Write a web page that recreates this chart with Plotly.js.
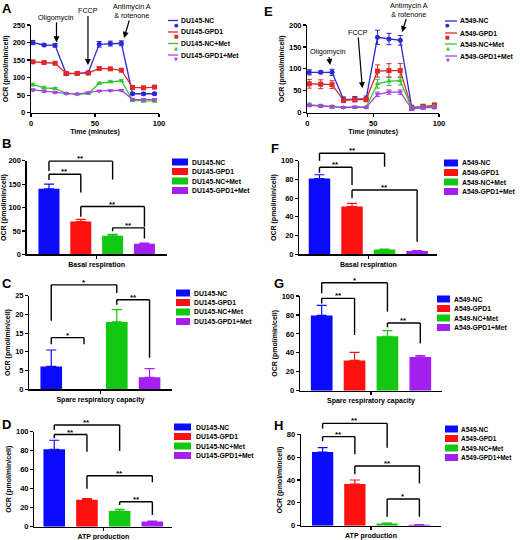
<!DOCTYPE html>
<html><head><meta charset="utf-8">
<script src="https://cdn.plot.ly/plotly-3.0.1.min.js"></script>
<style>html,body{margin:0;padding:0;background:#fff}#chart{width:520px;height:540px}</style>
</head><body><div id="chart"></div>
<script>
// ---------------- DATA ----------------
const timeMin = [1.5, 10.2, 18.8, 27.5, 36.1, 44.7, 53.3, 62, 70.6, 79.3, 87.9, 96.5];
const du145Groups = ['DU145-NC', 'DU145-GPD1', 'DU145-NC+Met', 'DU145-GPD1+Met'];
const a549Groups = ['A549-NC', 'A549-GPD1', 'A549-NC+Met', 'A549-GPD1+Met'];

// Panel A: DU145 OCR time course
const du145NC      = [200, 193, 192, 111, 112, 114, 195, 197, 198, 54, 54, 54];
const du145GPD1    = [145, 143, 141, 112, 112, 113, 126, 125, 121, 72, 71, 73];
const du145NCMet   = [80, 71, 69, 55, 53, 54, 84, 88, 91, 35, 33, 33];
const du145GPD1Met = [65, 61, 58, 55, 53, 57, 62, 63, 64, 38, 37, 37];
const du145NCErr      = [6, 3, 5, 5, 5, 4, 8, 7, 7, 3, 3, 3];
const du145GPD1Err    = [3, 2, 2, 3, 3, 3, 4, 4, 4, 3, 3, 3];
const du145NCMetErr   = [4, 4, 3, 2, 2, 2, 3, 3, 3, 3, 3, 3];
const du145GPD1MetErr = [3, 3, 3, 2, 2, 2, 2, 2, 2, 3, 3, 3];

// Panel E: A549 OCR time course
const a549NC      = [92, 92, 92, 30, 31, 32, 172, 168, 165, 12, 14, 15];
const a549GPD1    = [66, 65, 64, 28, 30, 30, 95, 96, 96, 10, 14, 17];
const a549NCMet   = [18, 16, 14, 12, 12, 13, 66, 72, 73, 10, 12, 14];
const a549GPD1Met = [17, 15, 13, 12, 13, 12, 42, 47, 47, 9, 11, 12];
const a549NCErr      = [6, 3, 7, 6, 6, 6, 16, 13, 11, 5, 5, 5];
const a549GPD1Err    = [10, 10, 9, 5, 5, 5, 14, 16, 16, 4, 5, 5];
const a549NCMetErr   = [4, 3, 3, 2, 2, 2, 10, 10, 10, 3, 3, 3];
const a549GPD1MetErr = [3, 3, 3, 2, 2, 2, 5, 5, 5, 3, 3, 3];

// Bar panels (mean, SD)
const du145Basal = [140, 70, 39.5, 22.5];   const du145BasalErr = [10, 4.5, 3, 1.5];
const du145Spare = [6.1, 0, 18, 3.2];       const du145SpareErr = [4.4, 0, 3.3, 2.3];
const du145ATP   = [81.5, 28.5, 16.5, 5.5]; const du145ATPErr   = [9.5, 1, 1.8, 0.5];
const a549Basal  = [81, 51, 5, 3.5];        const a549BasalErr  = [4, 3.5, 0.5, 0.5];
const a549Spare  = [79.5, 32, 57.5, 35.5];  const a549SpareErr  = [10.5, 8.5, 6, 1.5];
const a549ATP    = [64.5, 36.5, 2, 0.8];    const a549ATPErr    = [3.8, 3.5, 0.3, 0.2];

// Significance brackets: [group i, group j, bracket top, left leg end, right leg end, label]
const du145BasalSig = [[0,1,171,159,132,'**'],[0,2,199,178,160,'**'],[1,3,102,80,59,'**'],[2,3,56.5,49.5,34,'**']];
const du145SpareSig = [[0,1,13.8,12,12,'*'],[0,2,27.9,18.3,25.7,'*'],[2,3,23.9,22.6,8.4,'**']];
const du145ATPSig   = [[0,1,97,93,79,'**'],[0,2,107,101.8,79.6,'**'],[1,3,53.7,40,46.7,'**'],[2,3,26.3,22.8,12.3,'**']];
const a549BasalSig  = [[0,1,93,87,74,'**'],[0,2,108,100,93.6,'**'],[1,3,68.7,60,13.5,'**']];
const a549SpareSig  = [[0,1,97.5,92,58.8,'**'],[0,2,114,102.8,83.5,'*'],[2,3,71.5,67,50,'**']];
const a549ATPSig    = [[0,1,78,74,62.5,'**'],[0,2,89.6,85,68.3,'**'],[1,3,52.3,45,37,'**'],[2,3,23.4,7.9,7.9,'*']];

// ---------------- STYLE ----------------
const W = 520, H = 540;
const FONT = 'Liberation Sans, Arial, sans-serif';
const lineColors = ['#2a2ad0', '#e02828', '#35c435', '#a546e0'];
const barColors = ['#0a0aff', '#ff1010', '#12c812', '#a320f0'];
const symbols = ['circle', 'square', 'triangle-up', 'triangle-down'];
const symChars = ['\u25CF', '\u25A0', '\u25B2', '\u25BC'];

const traces = [];
const layout = {
  width: W, height: H, margin: {l: 0, r: 0, t: 0, b: 0},
  showlegend: false, paper_bgcolor: '#fff', plot_bgcolor: '#fff',
  barmode: 'overlay', font: {family: FONT, color: '#000'},
  shapes: [], annotations: []
};
const px2x = p => p / W, px2y = p => 1 - p / H;

function axisBase() {
  return {showline: true, linecolor: '#000', linewidth: 1.3, ticks: 'outside', ticklen: 3,
    tickwidth: 1.2, tickcolor: '#000', showgrid: false, zeroline: false, fixedrange: true,
    tickfont: {family: FONT, size: 7.5, color: '#000', weight: 'bold'}};
}
function suf(n) { return n === 1 ? '' : String(n); }
function addAxes(n, g, xcfg, ycfg) {
  const s = suf(n);
  layout['xaxis' + s] = Object.assign(axisBase(), {domain: [g.x[0] / W, g.x[1] / W], anchor: 'y' + s}, xcfg);
  layout['yaxis' + s] = Object.assign(axisBase(), {domain: [1 - g.y[1] / H, 1 - g.y[0] / H], anchor: 'x' + s,
    title: {text: '<b>OCR (pmol/min/cell)</b>', font: {size: 7, family: FONT}, standoff: 3}}, ycfg);
}
function legendText(x, y, name, fs) {
  layout.annotations.push({xref: 'paper', yref: 'paper', x: px2x(x), y: px2y(y), xanchor: 'left',
    yanchor: 'middle', borderpad: 0, text: '<b>' + name + '</b>', showarrow: false,
    font: {size: fs, family: FONT}});
}

function linePanel(n, g, groups, series, errs, yMax, notes, lg) {
  const s = suf(n);
  addAxes(n, g, {range: [0, 100], tickvals: [0, 50, 100],
      title: {text: '<b>Time (minutes)</b>', font: {size: 7, family: FONT}, standoff: 2}},
    {range: [0, yMax], dtick: 50});
  groups.forEach((name, i) => {
    traces.push({type: 'scatter', mode: 'lines+markers', name: name, x: timeMin, y: series[i],
      xaxis: 'x' + s, yaxis: 'y' + s, cliponaxis: false,
      line: {color: lineColors[i], width: 1.3},
      marker: {symbol: symbols[i], size: 5, color: lineColors[i]},
      error_y: {type: 'data', array: errs[i], color: lineColors[i], thickness: 1, width: 2.5}});
    const y = lg.rows[i];
    layout.shapes.push({type: 'line', xref: 'paper', yref: 'paper', x0: px2x(lg.x0), x1: px2x(lg.x1),
      y0: px2y(y), y1: px2y(y), line: {color: lineColors[i], width: 1.3}});
    layout.annotations.push({xref: 'paper', yref: 'paper', x: px2x((lg.x0 + lg.x1) / 2), y: px2y(y),
      text: symChars[i], showarrow: false, borderpad: 0, font: {family: 'DejaVu Sans', size: 5, color: lineColors[i]}});
    legendText(lg.tx, y, name, lg.fs);
  });
  notes.forEach(a => {
    layout.annotations.push({xref: 'x' + s, yref: 'y' + s, x: a.x, y: a.y, ax: a.ax, ay: a.ay,
      text: a.text, showarrow: true, arrowhead: 2, arrowsize: 1, arrowwidth: 1.2, arrowcolor: '#000',
      standoff: 0, borderpad: 0, font: {size: 7.2, family: FONT}});
  });
}

function barPanel(n, g, groups, vals, errs, sig, label, yMax, dtick, lg) {
  const s = suf(n);
  addAxes(n, g, {range: [-g.gap, 3 + g.gap], tickvals: [1.5], ticktext: ['<b>' + label + '</b>'],
      tickfont: {family: FONT, size: 7, color: '#000'}},
    {range: [0, yMax], dtick: dtick});
  groups.forEach((name, i) => {
    traces.push({type: 'bar', name: name, x: [i], y: [vals[i]], width: 0.66,
      xaxis: 'x' + s, yaxis: 'y' + s, marker: {color: barColors[i], line: {width: 0}},
      error_y: {type: 'data', visible: errs[i] > 0, symmetric: false, array: [errs[i]], arrayminus: [0],
        color: barColors[i], thickness: 1.2, width: 5}});
    const y = lg.rows[i];
    layout.shapes.push({type: 'rect', xref: 'paper', yref: 'paper', x0: px2x(lg.x0), x1: px2x(lg.x1),
      y0: px2y(y - 3.5), y1: px2y(y + 3.5), fillcolor: barColors[i], line: {width: 0}});
    legendText(lg.tx, y, name, lg.fs);
  });
  const xr = 'x' + s, yr = 'y' + s + ' domain';
  const ln = {color: '#000', width: 1.4};
  sig.forEach(([i, j, top, lb, rb, txt]) => {
    layout.shapes.push({type: 'line', xref: xr, yref: yr, x0: i, x1: i, y0: lb / yMax, y1: top / yMax, line: ln});
    layout.shapes.push({type: 'line', xref: xr, yref: yr, x0: i, x1: j, y0: top / yMax, y1: top / yMax, line: ln});
    layout.shapes.push({type: 'line', xref: xr, yref: yr, x0: j, x1: j, y0: top / yMax, y1: rb / yMax, line: ln});
    layout.annotations.push({xref: xr, yref: yr, x: (i + j) / 2, y: top / yMax, yanchor: 'bottom', yshift: -4,
      text: '<b>' + txt + '</b>', showarrow: false, font: {size: 8, family: FONT}});
  });
}

// ---------------- PANELS ----------------
linePanel(1, {x: [31, 159], y: [25, 112.7]}, du145Groups,
  [du145NC, du145GPD1, du145NCMet, du145GPD1Met],
  [du145NCErr, du145GPD1Err, du145NCMetErr, du145GPD1MetErr], 250,
  [{x: 19.9, y: 201, ax: 0, ay: -25, text: 'Oligomycin'},
   {x: 44.5, y: 136, ax: 0, ay: -54, text: 'FCCP'},
   {x: 72.7, y: 213, ax: 8, ay: -27, text: 'Antimycin A<br>& rotenone'}],
  {x0: 168, x1: 178, tx: 180, rows: [20.5, 32, 43.5, 55], fs: 6.8});

linePanel(2, {x: [307.3, 439], y: [25, 112.7]}, a549Groups,
  [a549NC, a549GPD1, a549NCMet, a549GPD1Met],
  [a549NCErr, a549GPD1Err, a549NCMetErr, a549GPD1MetErr], 200,
  [{x: 17.4, y: 108.8, ax: -2, ay: -13, text: 'Oligomycin'},
   {x: 41.8, y: 55.6, ax: -4.5, ay: -56, text: 'FCCP'},
   {x: 72, y: 184, ax: 7, ay: -22.5, text: 'Antimycin A<br>& rotenone'}],
  {x0: 445, x1: 457, tx: 459, rows: [21, 33, 44, 56], fs: 6.8});

barPanel(3, {x: [26.7, 166.7], y: [160.7, 254.3], gap: 0.7}, du145Groups, du145Basal, du145BasalErr,
  du145BasalSig, 'Basal respiration', 200, 50, {x0: 172, x1: 188, tx: 191, rows: [162, 171.5, 181, 190.5], fs: 6.8});
barPanel(4, {x: [299.3, 437.3], y: [160.7, 254.3], gap: 0.62}, a549Groups, a549Basal, a549BasalErr,
  a549BasalSig, 'Basal respiration', 100, 20, {x0: 444, x1: 458, tx: 461, rows: [163, 172.5, 182, 191.5], fs: 6.8});
barPanel(5, {x: [29.3, 171.5], y: [295.7, 389.3], gap: 0.67}, du145Groups, du145Spare, du145SpareErr,
  du145SpareSig, 'Spare respiratory capacity', 25, 5, {x0: 176, x1: 190, tx: 193, rows: [293, 302.5, 312, 321.5], fs: 6.8});
barPanel(6, {x: [300, 442], y: [296, 390.7], gap: 0.66}, a549Groups, a549Spare, a549SpareErr,
  a549SpareSig, 'Spare respiratory capacity', 100, 20, {x0: 437, x1: 450, tx: 453, rows: [299, 308.5, 318, 327.5], fs: 6.8});
barPanel(7, {x: [34.3, 172.3], y: [431.7, 526.7], gap: 0.61}, du145Groups, du145ATP, du145ATPErr,
  du145ATPSig, 'ATP production', 100, 20, {x0: 174, x1: 191, tx: 195, rows: [427, 436.5, 446, 455.5], fs: 6.8});
barPanel(8, {x: [301, 441], y: [434.3, 525.7], gap: 0.67}, a549Groups, a549ATP, a549ATPErr,
  a549ATPSig, 'ATP production', 80, 20, {x0: 445, x1: 458, tx: 460, rows: [429, 438.5, 448, 457.5], fs: 6.5});

// Panel letters
[['A', 0, 2], ['E', 262, 5], ['B', 0, 137], ['F', 269, 142], ['C', 0, 277], ['G', 272, 277], ['D', 0, 418], ['H', 272, 419]]
  .forEach(([t, x, y]) => layout.annotations.push({xref: 'paper', yref: 'paper', x: px2x(x), y: px2y(y - 3),
    xanchor: 'left', yanchor: 'top', text: '<b>' + t + '</b>', showarrow: false, font: {size: 13, family: FONT}}));

Plotly.newPlot('chart', traces, layout, {staticPlot: true, displayModeBar: false});
</script></body></html>
